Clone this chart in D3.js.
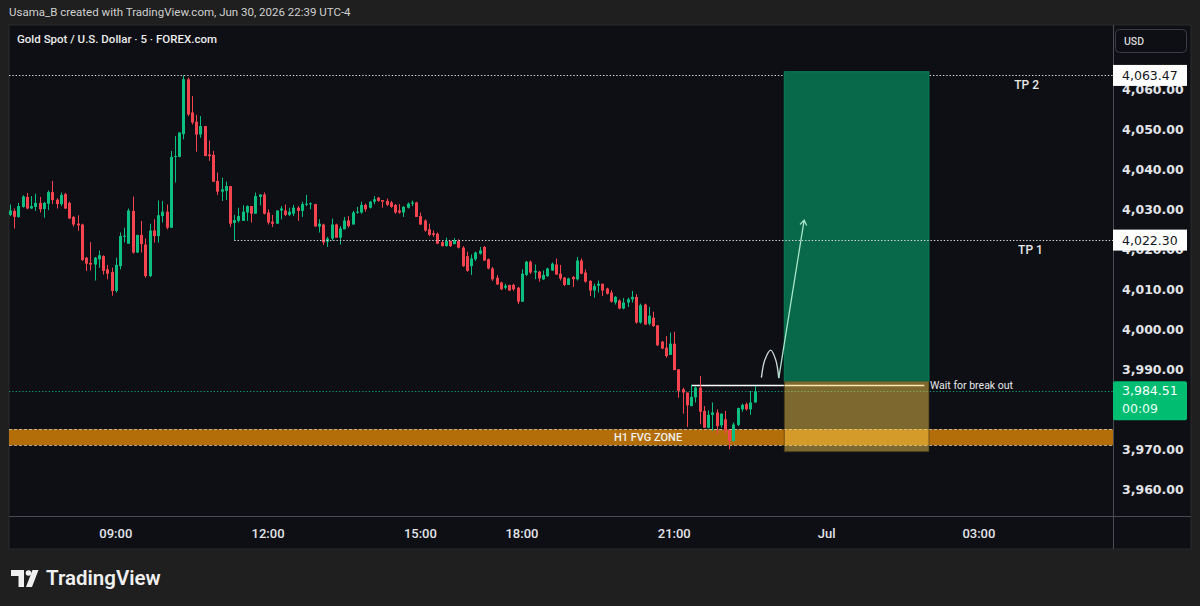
<!DOCTYPE html>
<html>
<head>
<meta charset="utf-8">
<script src="https://cdn.jsdelivr.net/npm/d3@7"></script>
<style>
  html, body { margin: 0; padding: 0; background: #1f1f1f; }
  svg { display: block; font-family: Roboto, "Noto Sans", sans-serif; }
</style>
</head>
<body>
<div id="chart"></div>
<script>
// XAUUSD 5m bars, Jun 30 06:55 -> 22:35
var opens = [
  4028.6,4029.6,4028.1,4030.6,4033.1,4030.2,4030.6,4031.6,4030.1,4031.4,
  4034.3,4032.4,4031.3,4033.8,4031.6,4028.1,4026.4,4026.2,4017.9,4016.6,
  4016.2,4017.5,4018.3,4015.0,4014.3,4009.6,4015.8,4023.3,4021.4,4029.6,
  4019.2,4023.6,4021.2,4013.3,4024.7,4023.3,4028.3,4029.4,4025.4,4043.1,
  4043.1,4048.8,4062.5,4054.2,4051.9,4048.7,4050.8,4043.7,4043.6,4037.1,
  4034.4,4034.6,4035.8,4026.6,4027.1,4027.1,4029.2,4030.8,4028.9,4033.1,
  4033.7,4029.2,4026.9,4026.4,4029.7,4029.7,4028.6,4028.9,4030.4,4029.6,
  4031.3,4031.3,4031.3,4025.7,4026.2,4021.9,4022.7,4026.2,4022.9,4025.0,
  4027.2,4026.2,4029.2,4029.2,4031.1,4030.4,4031.9,4032.9,4032.3,4032.1,
  4031.7,4031.1,4029.7,4029.2,4030.4,4031.4,4031.7,4028.3,4027.2,4025.0,
  4024.0,4023.9,4021.8,4020.8,4022.1,4021.3,4022.1,4020.4,4018.3,4015.8,
  4017.5,4018.9,4020.6,4017.5,4015.2,4012.9,4011.7,4010.4,4011.1,4011.1,
  4010.4,4006.9,4013.6,4016.9,4014.2,4014.4,4012.5,4013.3,4014.7,4016.2,
  4013.9,4012.9,4011.1,4013.1,4012.5,4017.2,4014.2,4012.1,4009.7,4010.9,
  4011.4,4010.2,4009.2,4006.7,4007.2,4005.2,4006.7,4007.5,4008.1,4001.7,
  4006.2,4001.4,4002.9,4001.0,3996.9,3995.4,3993.6,3996.4,3990.0,3985.0,
  3984.2,3980.8,3983.0,3985.4,3979.6,3975.4,3978.6,3979.2,3976.0,3977.5,
  3974.8,3972.1,3976.1,3980.0,3981.3,3980.0,3981.7
];
var highs = [
  4031.2,4030.2,4031.6,4033.5,4034.1,4033.3,4033.9,4033.1,4031.8,4034.7,
  4037.1,4032.8,4034.2,4034.1,4031.9,4028.3,4028.5,4026.4,4018.1,4021.8,
  4018.1,4019.7,4018.5,4016.1,4015.4,4017.9,4024.2,4025.4,4030.2,4033.2,
  4023.6,4027.1,4022.7,4026.4,4027.5,4032.2,4032.1,4031.2,4044.6,4048.3,
  4049.2,4063.5,4062.9,4058.3,4053.6,4053.3,4050.8,4047.2,4044.6,4039.2,
  4037.9,4036.9,4035.8,4028.6,4030.4,4031.0,4031.0,4030.8,4034.2,4033.7,
  4034.2,4030.0,4028.6,4029.7,4030.8,4031.2,4030.4,4031.1,4030.8,4031.9,
  4033.6,4031.7,4031.4,4027.5,4026.4,4023.1,4027.7,4026.4,4025.8,4028.1,
  4028.3,4029.6,4030.6,4031.9,4031.4,4032.1,4033.3,4033.1,4032.3,4032.7,
  4032.1,4031.3,4031.3,4030.8,4031.7,4032.2,4031.9,4029.2,4027.5,4026.4,
  4024.7,4024.2,4022.1,4022.9,4022.1,4022.8,4022.5,4020.8,4019.4,4018.7,
  4019.4,4020.6,4020.8,4017.7,4015.6,4013.6,4011.9,4011.4,4011.1,4011.4,
  4010.6,4015.0,4017.1,4017.2,4016.2,4014.6,4014.7,4015.4,4016.7,4017.7,
  4016.1,4013.1,4012.9,4013.3,4018.1,4017.7,4015.0,4012.3,4011.4,4012.2,
  4011.4,4010.4,4009.8,4008.3,4007.5,4007.8,4007.9,4009.6,4008.8,4006.4,
  4006.4,4005.6,4004.4,4001.0,3997.1,3998.3,3999.2,3999.4,3990.0,3985.4,
  3984.2,3986.1,3985.8,3988.3,3980.8,3979.7,3981.7,3980.0,3979.0,3979.6,
  3974.8,3976.7,3980.4,3981.4,3981.7,3984.6,3985.8
];
var lows = [
  4028.3,4025.2,4027.9,4030.4,4030.0,4030.1,4029.6,4029.2,4027.9,4029.8,
  4031.3,4030.2,4030.8,4030.1,4027.6,4025.7,4024.6,4017.1,4014.6,4014.7,
  4012.2,4015.4,4013.7,4012.5,4008.4,4009.2,4015.0,4021.7,4021.4,4018.9,
  4019.1,4019.2,4012.9,4013.1,4021.7,4021.7,4026.7,4025.0,4025.4,4036.7,
  4043.0,4047.5,4053.3,4051.2,4044.4,4047.9,4043.3,4042.1,4036.9,4033.6,
  4032.1,4032.3,4025.6,4022.3,4026.7,4027.1,4027.1,4026.7,4028.9,4031.0,
  4028.7,4026.2,4025.6,4026.4,4027.5,4028.3,4028.3,4028.3,4027.1,4028.1,
  4030.8,4030.0,4025.7,4024.2,4021.1,4020.6,4022.2,4022.9,4021.2,4025.0,
  4025.4,4026.2,4028.9,4028.9,4029.4,4030.2,4031.3,4031.9,4030.4,4030.8,
  4030.4,4028.9,4028.9,4028.1,4030.2,4030.8,4028.1,4026.1,4024.4,4023.3,
  4023.1,4021.3,4020.7,4020.7,4020.6,4021.3,4020.2,4015.6,4014.4,4013.6,
  4017.1,4018.7,4017.1,4015.0,4012.1,4011.1,4009.8,4010.0,4009.6,4009.6,
  4006.3,4006.9,4013.3,4013.8,4012.5,4011.9,4012.3,4013.1,4014.6,4013.6,
  4012.2,4010.8,4011.1,4010.6,4012.2,4013.8,4011.7,4008.3,4007.9,4009.2,
  4008.3,4008.7,4006.7,4006.2,4005.0,4005.0,4005.6,4006.7,4001.4,4001.4,
  4001.1,4001.0,4000.6,3995.8,3995.0,3992.9,3993.6,3989.8,3982.9,3978.9,
  3975.6,3980.8,3981.7,3976.3,3975.4,3975.2,3974.6,3973.8,3975.4,3973.9,
  3970.0,3971.9,3975.8,3979.4,3979.7,3978.6,3981.7
];
var closes = [
  4029.7,4028.1,4030.8,4033.2,4030.2,4030.8,4031.6,4030.0,4031.6,4034.3,
  4032.3,4031.3,4033.6,4030.2,4027.7,4026.2,4026.0,4017.3,4016.4,4016.2,
  4017.9,4018.5,4014.6,4013.9,4009.6,4016.1,4023.3,4023.4,4029.7,4019.2,
  4023.6,4021.3,4013.3,4024.7,4023.3,4028.5,4029.4,4025.4,4043.1,4043.3,
  4049.2,4062.5,4053.7,4051.7,4048.7,4050.8,4043.3,4043.3,4036.9,4034.4,
  4035.0,4035.8,4026.4,4027.3,4028.3,4029.4,4030.8,4028.9,4033.3,4033.7,
  4028.9,4026.7,4026.4,4029.7,4030.2,4028.6,4029.4,4030.4,4029.6,4031.3,
  4031.4,4031.5,4025.7,4026.4,4021.7,4022.7,4026.2,4022.9,4025.2,4027.2,
  4025.8,4029.2,4029.4,4031.1,4030.0,4031.9,4032.5,4032.1,4031.9,4031.1,
  4030.6,4029.2,4029.2,4030.6,4031.4,4031.7,4028.1,4026.2,4024.7,4023.6,
  4023.6,4021.4,4020.8,4022.1,4020.8,4022.3,4020.4,4015.8,4014.6,4017.7,
  4019.2,4019.7,4017.2,4015.2,4012.5,4011.2,4010.0,4010.9,4009.7,4010.0,
  4006.9,4013.9,4016.9,4014.2,4014.6,4012.7,4013.6,4015.2,4016.4,4013.7,
  4012.7,4011.1,4012.7,4012.5,4017.2,4013.9,4011.9,4009.7,4010.8,4011.4,
  4009.7,4008.9,4006.9,4008.1,4005.2,4006.7,4007.5,4008.1,4001.7,4006.0,
  4001.2,4003.4,4000.8,3996.0,3995.2,3993.3,3996.4,3989.8,3984.6,3984.2,
  3981.0,3983.1,3985.4,3979.4,3975.4,3978.6,3979.2,3975.8,3978.9,3974.6,
  3972.1,3976.2,3980.3,3981.1,3980.0,3981.7,3984.5
];

// axes (3,980 sits under the live price badge, so it is not listed)
var priceTicks = [3960, 3970, 3990, 4000, 4010, 4020, 4030, 4040, 4050, 4060];
var timeTicks = ["09:00", "12:00", "15:00", "18:00", "21:00", "00:00", "03:00"];
var timeTickLabels = ["09:00", "12:00", "15:00", "18:00", "21:00", "Jul", "03:00"];
var sessionStart = "06:55";           // first bar on screen
var breakStart = "17:00", breakEnd = "18:00";  // daily maintenance gap
var visibleBars = [-0.24, 260.7];
var visiblePrices = [3960, 4050];

// live price
var lastPrice = 3984.51;
var countdown = "00:09";

// drawings (bar index / price)
var tp2 = { price: 4063.47, from: -1, label: "TP 2", labelBar: 240.3 };
var tp1 = { price: 4022.30, from: 53, label: "TP 1", labelBar: 241.2 };
var fvgZone = { top: 3975.0, bottom: 3971.0, label: "H1 FVG ZONE", labelBar: 150.8 };
var breakout = { from: 161, to: 216.1, price: 3986.1, label: "Wait for break out" };
var longPos = { from: 183, to: 217.2, entry: 3987.0, target: 4064.4, stop: 3969.4 };
var pathBars = [177.6, 178.4, 179.8, 181.0, 181.7];
var pathPrices = [3987.9, 3992.3, 3994.8, 3992.3, 3987.8];
var arrowTip = [187.7, 4027.3];

var W = 1200, H = 606;
var panel = { left: 9, top: 25, right: 1191, bottom: 549 };
var plot = { left: 9, top: 25, right: 1113, bottom: 516 };

var upColor = "#0cbf80", downColor = "#f3444f";
var bg = "#0d0f15", axisLine = "#4a4c54", textColor = "#e3e4e8";
var axisFont = "'DejaVu Sans', Verdana, sans-serif";

var bars = opens.map(function(o, i) {
  return { i: i, open: o, high: highs[i], low: lows[i], close: closes[i] };
});

// bar slots on the time axis (5 min, with the 17:00-18:00 break removed)
function toMin(s) { var p = s.split(":"); return +p[0] * 60 + +p[1]; }
var slots = [];
for (var m = toMin(sessionStart); slots.length < 300; m += 5) {
  var mm = m % 1440;
  if (mm >= toMin(breakStart) && mm < toMin(breakEnd)) continue;
  slots.push(d3.format("02")(Math.floor(mm / 60)) + ":" + d3.format("02")(mm % 60));
}

var x = d3.scaleLinear().domain(visibleBars).range([plot.left, plot.right]);
var y = d3.scaleLinear().domain(visiblePrices).range([489.3, 129.3]);
var step = x(1) - x(0);
var bodyW = Math.max(1, Math.round(step * 0.7));

var svg = d3.select("#chart").append("svg")
    .attr("width", W)
    .attr("height", H);

svg.append("rect").attr("width", W).attr("height", H).attr("fill", "#1f1f1f");

// Header
svg.append("text")
    .attr("x", 9).attr("y", 16)
    .attr("fill", "#d0d0d0")
    .style("font-size", "11.5px")
    .text("Usama_B created with TradingView.com, Jun 30, 2026 22:39 UTC-4");

svg.append("rect")
    .attr("x", panel.left).attr("y", panel.top)
    .attr("width", panel.right - panel.left).attr("height", panel.bottom - panel.top)
    .attr("fill", bg)
    .attr("stroke", "#2a2a2a");

svg.append("defs").append("clipPath").attr("id", "plot-clip")
  .append("rect")
    .attr("x", plot.left).attr("y", plot.top)
    .attr("width", plot.right - plot.left).attr("height", plot.bottom - plot.top);

var g = svg.append("g").attr("clip-path", "url(#plot-clip)");

// FVG zone
g.append("rect")
    .attr("x", plot.left).attr("width", plot.right - plot.left)
    .attr("y", y(fvgZone.top)).attr("height", y(fvgZone.bottom) - y(fvgZone.top))
    .attr("fill", "#b36e0a");
[fvgZone.top, fvgZone.bottom].forEach(function(p) {
  g.append("line")
      .attr("x1", plot.left).attr("x2", plot.right)
      .attr("y1", Math.round(y(p)) + 0.5).attr("y2", Math.round(y(p)) + 0.5)
      .attr("stroke", "rgba(255,255,255,0.55)")
      .attr("stroke-dasharray", "3,2");
});

// dotted horizontal lines
function dotted(p, from, color) {
  g.append("line")
      .attr("x1", Math.max(plot.left, x(from))).attr("x2", plot.right)
      .attr("y1", Math.round(y(p)) + 0.5).attr("y2", Math.round(y(p)) + 0.5)
      .attr("stroke", color)
      .attr("stroke-width", 1.2)
      .attr("stroke-dasharray", "1.4,1.9");
}
dotted(tp2.price, tp2.from, "#d8d8d8");
dotted(lastPrice, -1, "#10916a");

// breakout level
g.append("line")
    .attr("x1", x(breakout.from)).attr("x2", x(breakout.to))
    .attr("y1", Math.round(y(breakout.price)) + 0.5).attr("y2", Math.round(y(breakout.price)) + 0.5)
    .attr("stroke", "#ffffff")
    .attr("stroke-width", 1.3);

// candles
var candle = g.append("g").selectAll("g")
    .data(bars)
  .enter().append("g")
    .attr("fill", function(d) { return d.close >= d.open ? upColor : downColor; });

candle.append("rect")
    .attr("x", function(d) { return Math.round(x(d.i)); })
    .attr("width", 1)
    .attr("y", function(d) { return y(d.high); })
    .attr("height", function(d) { return Math.max(1, y(d.low) - y(d.high)); });

candle.append("rect")
    .attr("x", function(d) { return Math.round(x(d.i)) - (bodyW - 1) / 2; })
    .attr("width", bodyW)
    .attr("y", function(d) { return y(Math.max(d.open, d.close)); })
    .attr("height", function(d) { return Math.max(1, Math.abs(y(d.open) - y(d.close))); });

// long position tool
g.append("rect")
    .attr("x", x(longPos.from)).attr("width", x(longPos.to) - x(longPos.from))
    .attr("y", y(longPos.target)).attr("height", y(longPos.entry) - y(longPos.target))
    .attr("fill", "#07694a")
    .attr("stroke", "#0a7d56");
g.append("rect")
    .attr("x", x(longPos.from)).attr("width", x(longPos.to) - x(longPos.from))
    .attr("y", y(longPos.entry)).attr("height", y(longPos.stop) - y(longPos.entry))
    .attr("fill", "rgba(249,205,80,0.48)")
    .attr("stroke", "rgba(60,50,20,0.6)");

dotted(tp1.price, tp1.from, "#d8d8d8");

// drawn path + arrow
var pathPts = pathBars.map(function(b, k) { return [x(b), y(pathPrices[k])]; });
g.append("path")
    .attr("d", d3.line().curve(d3.curveCatmullRom)(pathPts))
    .attr("fill", "none")
    .attr("stroke", "#c9d6d1")
    .attr("stroke-width", 1.4);
var a0 = pathPts[pathPts.length - 1], a1 = [x(arrowTip[0]), y(arrowTip[1])];
var ang = Math.atan2(a1[1] - a0[1], a1[0] - a0[0]);
g.append("path")
    .attr("d", d3.line()([a0, a1]) +
      d3.line()([[a1[0] - 6 * Math.cos(ang - 0.6), a1[1] - 6 * Math.sin(ang - 0.6)], a1,
                 [a1[0] - 6 * Math.cos(ang + 0.6), a1[1] - 6 * Math.sin(ang + 0.6)]]))
    .attr("fill", "none")
    .attr("stroke", "#a9e3ca")
    .attr("stroke-width", 1.3);

// annotation labels
g.append("text")
    .attr("x", x(fvgZone.labelBar)).attr("y", (y(fvgZone.top) + y(fvgZone.bottom)) / 2 + 4)
    .attr("text-anchor", "middle")
    .attr("fill", "#eeeeee")
    .style("font-size", "11px").style("font-weight", 500)
    .text(fvgZone.label);

g.append("text")
    .attr("x", x(longPos.to) + 1).attr("y", y(breakout.price) + 4)
    .attr("fill", "#e8e8e8")
    .style("font-size", "10.5px")
    .text(breakout.label);

[tp2, tp1].forEach(function(t) {
  g.append("text")
      .attr("x", x(t.labelBar)).attr("y", y(t.price) + 14)
      .attr("text-anchor", "middle")
      .attr("fill", "#e8e8e8")
      .style("font-size", "12px").style("font-weight", 500)
      .text(t.label);
});

// Title
svg.append("text")
    .attr("x", 17).attr("y", 43)
    .attr("fill", "#ececec")
    .style("font-size", "11.5px").style("font-weight", 500)
    .text("Gold Spot / U.S. Dollar \u00b7 5 \u00b7 FOREX.com");

// Axis separators
svg.append("line")
    .attr("x1", plot.right + 0.5).attr("x2", plot.right + 0.5)
    .attr("y1", panel.top).attr("y2", panel.bottom)
    .attr("stroke", axisLine);
svg.append("line")
    .attr("x1", panel.left).attr("x2", panel.right)
    .attr("y1", plot.bottom + 0.5).attr("y2", plot.bottom + 0.5)
    .attr("stroke", axisLine);

// Price axis
var fmt = d3.format(",.2f");
var pa = svg.append("g").style("font-family", axisFont);
pa.selectAll("text.tick")
    .data(priceTicks)
  .enter().append("text")
    .attr("class", "tick")
    .attr("x", 1122)
    .attr("y", function(d) { return y(d) + 4.5; })
    .attr("fill", textColor)
    .style("font-size", "12.5px").style("font-weight", 700)
    .text(fmt);

pa.append("rect")
    .attr("x", 1115.5).attr("y", 29.5).attr("width", 71).attr("height", 23).attr("rx", 4)
    .attr("fill", bg).attr("stroke", "#3a3d46");
pa.append("text")
    .attr("x", 1124).attr("y", 45)
    .attr("fill", "#d6d6d6")
    .style("font-family", "Roboto, sans-serif")
    .style("font-size", "10.5px").style("font-weight", 500)
    .text("USD");

[tp2.price, tp1.price].forEach(function(p) {
  pa.append("rect")
      .attr("x", plot.right).attr("y", y(p) - 10.5).attr("width", 74).attr("height", 21)
      .attr("fill", "#ffffff");
  pa.append("text")
      .attr("x", 1122).attr("y", y(p) + 4.5)
      .attr("fill", "#131722")
      .style("font-size", "12.5px")
      .text(fmt(p));
});

pa.append("rect")
    .attr("x", plot.right).attr("y", y(lastPrice) - 10).attr("width", 74).attr("height", 39)
    .attr("rx", 2)
    .attr("fill", "#00bd72");
pa.append("text")
    .attr("x", 1122).attr("y", y(lastPrice) + 4)
    .attr("fill", "#ffffff")
    .style("font-size", "12.5px")
    .text(fmt(lastPrice));
pa.append("text")
    .attr("x", 1122).attr("y", y(lastPrice) + 22)
    .attr("fill", "#e8fff4")
    .style("font-size", "12.5px")
    .text(countdown);

// Time axis
svg.append("g").selectAll("text")
    .data(timeTicks)
  .enter().append("text")
    .attr("x", function(t) { return x(slots.indexOf(t)); })
    .attr("y", 538)
    .attr("text-anchor", "middle")
    .attr("fill", textColor)
    .style("font-size", "13px").style("font-weight", 500)
    .text(function(t, k) { return timeTickLabels[k]; });

// TradingView logo
var logo = svg.append("g").attr("transform", "translate(11,570)").attr("fill", "#f0f0f0");
logo.append("path").attr("d", "M0 0H13V17H7.5V6H0Z");
logo.append("circle").attr("cx", 17.5).attr("cy", 3).attr("r", 2.8);
logo.append("path").attr("d", "M15 17L21.5 0H27.5L21 17Z");
svg.append("text")
    .attr("x", 46).attr("y", 585)
    .attr("fill", "#f0f0f0")
    .style("font-size", "20.5px").style("font-weight", 600)
    .text("TradingView");
</script>
</body>
</html>
